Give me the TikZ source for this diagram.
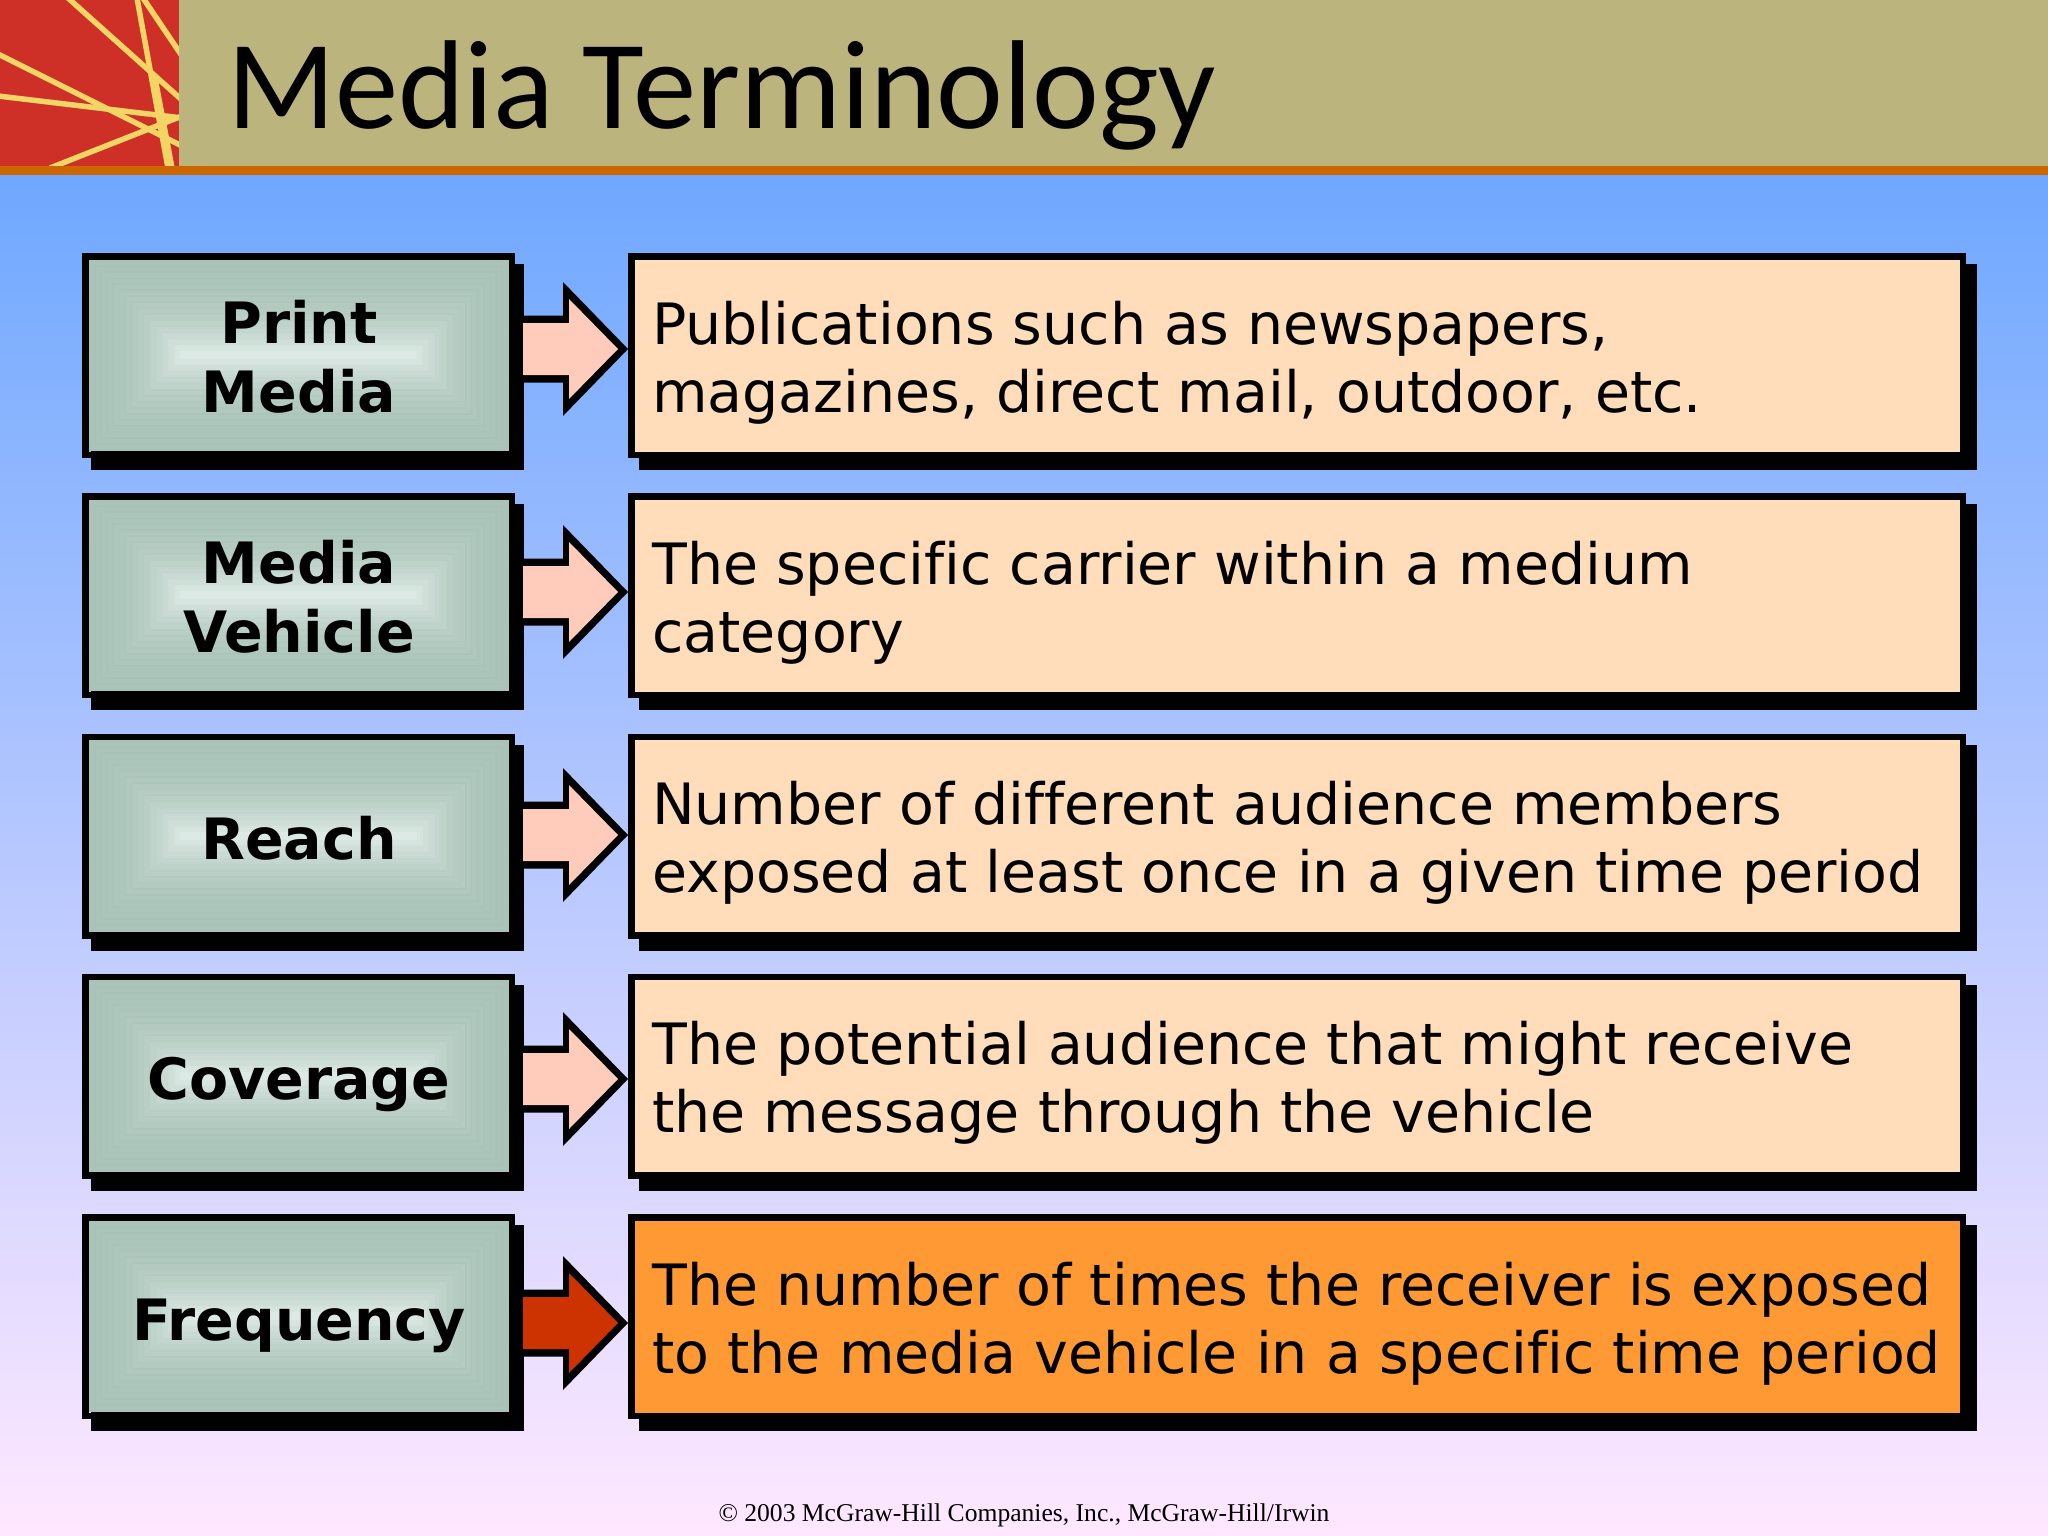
\documentclass[tikz,border=0pt]{standalone}
\usepackage{fontspec}
\setmainfont[Ligatures=NoCommon,Contextuals=NoAlternate]{DejaVu Sans}
\newfontfamily\titlefont{Carlito}
\newfontfamily\footfont{Liberation Serif}
\definecolor{khaki}{HTML}{BBB47C}
\definecolor{bandc}{HTML}{CC6600}
\definecolor{logored}{HTML}{CE3028}
\definecolor{logoline}{HTML}{F2D565}
\definecolor{bgtop}{HTML}{6FA8FF}
\definecolor{bgbot}{HTML}{FFE8FF}
\definecolor{peach}{HTML}{FFDDBB}
\definecolor{hiorange}{HTML}{FF9933}
\definecolor{arrowpink}{HTML}{FFCCBB}
\definecolor{arrowred}{HTML}{CC3300}
\definecolor{ringout}{HTML}{A8C2B7}
\definecolor{ringin}{HTML}{DCE9E4}
\tikzset{
  x=1pt,y=-1pt,
  termbox/.style={draw=black,line width=6.5pt,fill=none,inner sep=0pt,minimum width=426.5pt,minimum height=198.5pt},
  defbox/.style={draw=black,line width=6.5pt,inner sep=0pt,minimum width=1331.5pt,minimum height=198.5pt},
  termtext/.style={font=\fontsize{57}{68}\selectfont\bfseries,anchor=base,inner sep=0pt},
  deftext/.style={font=\fontsize{57}{68}\selectfont,anchor=base west,inner sep=0pt},
  logostroke/.style={draw=logoline,line width=5.5pt},
}
\newcommand{\termrings}[1]{% top edge of the row
  \foreach \k in {0,...,47}{
    \pgfmathsetmacro{\tt}{\k/47}
    \pgfmathsetmacro{\pp}{min(100,100*pow(\tt,2.6)+(mod(\k,3)==0?0:6))}
    \pgfmathsetmacro{\ins}{\tt*94}
    \fill[ringin!\pp!ringout] (88+\ins,#1+6+\ins) rectangle (509-\ins,#1+198-\ins);
  }
}
\newcommand{\blockarrow}[2]{% tip coordinate, fill
  \begin{scope}[shift={(#1)}]
    \fill[black] (-105,-33.5) -- (-65,-33.5) -- (-65,-67) -- (0,0) -- (-65,67) -- (-65,33.5) -- (-105,33.5) -- cycle;
    \fill[#2] (-105,-26) -- (-59,-26) -- (-59,-50) -- (-10,0) -- (-59,50) -- (-59,26) -- (-105,26) -- cycle;
  \end{scope}
}
\begin{document}
\begin{tikzpicture}
\useasboundingbox (0,0) rectangle (2048,1536);
% background
\shade[top color=bgtop,bottom color=bgbot] (0,175) rectangle (2048,1536);
\fill[khaki] (0,0) rectangle (2048,167);
\fill[logored] (0,0) rectangle (179,167);
\begin{scope}
  \clip (0,0) rectangle (179,167);
  \draw[logostroke] (68,-2) -- (182,100);
  \draw[logostroke] (-2,54) -- (182,146);
  \draw[logostroke] (-2,96) -- (182,118);
  \draw[logostroke] (50,168) -- (182,116);
  \draw[logostroke] (137,-2) -- (168,168);
  \draw[logostroke] (143,-2) -- (182,56);
  \draw[logostroke] (155,78) -- (172,168);
\end{scope}
\fill[bandc] (0,166) rectangle (2048,175);
\node[font=\titlefont\fontsize{126.5}{126.5}\selectfont,anchor=base west,inner sep=0pt] (title) at (227,129) {Media Terminology};
% rows
\foreach \r/\ty/\tip/\lft/\lb/\la/\lbb/\fillc/\arr in {
  1/253/349/{Print}/{Media}/{Publications such as newspapers,}/{magazines, direct mail, outdoor, etc.}/peach/arrowpink,
  2/493.25/592/{Media}/{Vehicle}/{The specific carrier within a medium}/{category}/peach/arrowpink,
  3/733.5/835/{Reach}/{}/{Number of different audience members}/{exposed at least once in a given time period}/peach/arrowpink,
  4/973.75/1079/{Coverage}/{}/{The potential audience that might receive}/{the message through the vehicle}/peach/arrowpink,
  5/1214/1323/{Frequency}/{}/{The number of times the receiver is exposed}/{to the media vehicle in a specific time period}/hiorange/arrowred}{
  \fill[black] (91,\ty+11) rectangle (523.5,\ty+217);
  \fill[black] (639,\ty+11) rectangle (1977,\ty+217);
  \termrings{\ty}
  \node[termbox] (term\r) at (298.5,\ty+102.5) {};
  \node[defbox,fill=\fillc] (def\r) at (1297,\ty+102.5) {};
  \coordinate (tip\r) at (628,\tip);
  \blockarrow{tip\r}{\arr}
  \ifx\lb\empty
    \node[termtext] (termlabel\r) at (299,\ty+126) {\lft};
  \else
    \node[termtext] (termlabel\r) at (299,\ty+90) {\lft};
    \node[termtext] (termlabelb\r) at (299,\ty+159) {\lb};
  \fi
  \node[deftext] (deflabel\r) at (652,\ty+91) {\la};
  \node[deftext] (deflabelb\r) at (652,\ty+159) {\lbb};
}
\node[font=\footfont\fontsize{25.6}{25.6}\selectfont,anchor=base,inner sep=0pt] (foot) at (1024,1521) {© 2003 McGraw-Hill Companies, Inc., McGraw-Hill/Irwin};
\end{tikzpicture}
\end{document}
